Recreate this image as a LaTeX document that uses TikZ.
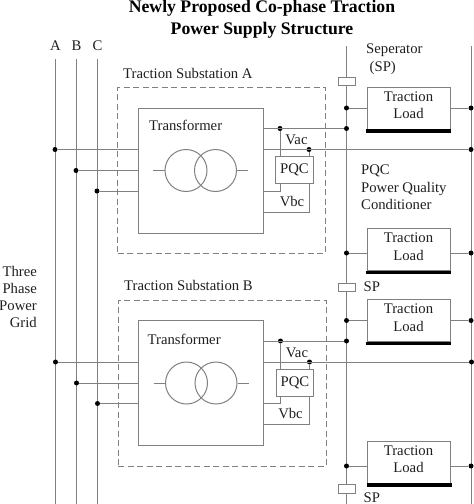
\documentclass[tikz,border=0pt]{standalone}
\usepackage{fontspec}
\setmainfont{Liberation Serif}
\usetikzlibrary{calc}
\definecolor{wirecol}{gray}{0.5}
\definecolor{txtcol}{gray}{0.12}
\tikzset{
  wire/.style={draw=wirecol,line width=1pt},
  jdot/.style={circle,fill=black,inner sep=0pt,minimum size=5pt},
  txt/.style={font=\fontsize{14.7}{17.3}\selectfont,text=txtcol,inner sep=0pt},
  box/.style={wire,rectangle,inner sep=0pt},
  loadbox/.style={box,minimum width=83pt,minimum height=42pt,align=center,txt,text depth=6pt},
  pqcbox/.style={box,fill=white,minimum width=37.5pt,minimum height=27pt,txt},
  spbox/.style={box,fill=white,minimum width=17pt,minimum height=8.5pt},
  xfbox/.style={box,minimum width=125pt,minimum height=125pt},
  subbox/.style={draw=wirecol,line width=.9pt,dash pattern=on 6pt off 3.5pt,rectangle,inner sep=0pt,minimum width=208pt,minimum height=166pt},
  coil/.style={wire,circle,inner sep=0pt,minimum size=42pt},
  loadbar/.style={line width=3.6pt,draw=black},
}
\begin{document}
\begin{tikzpicture}[x=1pt,y=-1pt]
\useasboundingbox (0,0) rectangle (474,504);
\node[font=\fontsize{17.7}{21.5}\selectfont\bfseries,align=center,inner sep=0pt] (title) at (262,19.5) {Newly Proposed Co-phase Traction\\Power Supply Structure};
% grid phases
\node[txt] (lblA) at (55.5,45.5) {A}; \node[txt] (lblB) at (76.5,45.5) {B}; \node[txt] (lblC) at (97.5,45.5) {C};
\coordinate (topA) at (55,59); \coordinate (topB) at (76,59); \coordinate (topC) at (97,59);
\coordinate (botA) at (55,504); \coordinate (botB) at (76,504); \coordinate (botC) at (97,504);
\draw[wire] (topA)--(botA); \draw[wire] (topB)--(botB); \draw[wire] (topC)--(botC);
\node[txt,align=right,anchor=east] (grid) at (37,297) {Three\\Phase\\Power\\Grid};
% feeder lines
\coordinate (topL) at (346.5,46); \coordinate (botL) at (346.5,504);
\coordinate (topR) at (471,46); \coordinate (botR) at (471,504);
\draw[wire] (topL)--(botL); \draw[wire] (topR)--(botR);
% substation A
\begin{scope}[shift={(0,0)},name prefix=a-]
\node[txt,anchor=west] (name) at (123,73) {Traction Substation A};
\node[subbox] (sub) at (221.5,170) {};
\node[xfbox] (xf) at (200.5,170.5) {};
\node[txt,anchor=west] (xfname) at (149,125) {Transformer};
\node[coil] (c1) at (186,170.5) {}; \node[coil] (c2) at (215.5,170.5) {};
\coordinate (s1) at (153,170.5); \coordinate (s2) at (248,170.5);
\draw[wire] (s1)--(c1); \draw[wire] (c2)--(s2);
\node[jdot] (da) at (55,149.5) {}; \node[jdot] (db) at (76,170.5) {}; \node[jdot] (dc) at (97,191) {};
\draw[wire] (da)--(da-|xf.west); \draw[wire] (db)--(db-|xf.west); \draw[wire] (dc)--(dc-|xf.west);
\node[pqcbox] (pqc) at (294.5,169.5) {PQC};
\node[jdot] (dv) at (280,128.5) {}; \node[jdot] (dl) at (346.5,128.5) {};
\node[jdot] (dw) at (309,149.5) {}; \node[jdot] (dr) at (471,149.5) {};
\draw[wire] (dl-|xf.east)--(dl); \draw[wire] (dr-|xf.east)--(dr);
\draw[wire] (dv)--(dv|-pqc.north); \draw[wire] (dw)--(dw|-pqc.north);
\coordinate (v1) at (280,191); \coordinate (v2) at (309,212);
\draw[wire] (v1|-pqc.south)--(v1)--(v1-|xf.east); \draw[wire] (v2|-pqc.south)--(v2)--(v2-|xf.east);
\node[txt] (vac) at (296.5,140) {Vac}; \node[txt] (vbc) at (292,202) {Vbc};
\end{scope}
% substation B
\begin{scope}[shift={(0.5,212.5)},name prefix=b-]
\node[txt,anchor=west] (name) at (123.5,73) {Traction Substation B};
\node[subbox] (sub) at (221.5,170.5) {};
\node[xfbox] (xf) at (200.5,170.5) {};
\node[txt,anchor=west] (xfname) at (147,126.5) {Transformer};
\node[coil] (c1) at (186,170.5) {}; \node[coil] (c2) at (215.5,170.5) {};
\coordinate (s1) at (153,170.5); \coordinate (s2) at (248,170.5);
\draw[wire] (s1)--(c1); \draw[wire] (c2)--(s2);
\node[jdot] (da) at (55,149.5) {}; \node[jdot] (db) at (76,170.5) {}; \node[jdot] (dc) at (97,191) {};
\draw[wire] (da)--(da-|xf.west); \draw[wire] (db)--(db-|xf.west); \draw[wire] (dc)--(dc-|xf.west);
\node[pqcbox] (pqc) at (294.5,170) {PQC};
\node[jdot] (dv) at (280,128.5) {}; \node[jdot] (dl) at (346,128.5) {};
\node[jdot] (dw) at (309,149.5) {}; \node[jdot] (dr) at (471,149.5) {};
\draw[wire] (dl-|xf.east)--(dl); \draw[wire] (dr-|xf.east)--(dr);
\draw[wire] (dv)--(dv|-pqc.north); \draw[wire] (dw)--(dw|-pqc.north);
\coordinate (v1) at (280,191); \coordinate (v2) at (309,212);
\draw[wire] (v1|-pqc.south)--(v1)--(v1-|xf.east); \draw[wire] (v2|-pqc.south)--(v2)--(v2-|xf.east);
\node[txt] (vac) at (296.5,140) {Vac}; \node[txt] (vbc) at (290,201) {Vbc};
\end{scope}
% traction loads
\node[loadbox] (load1) at (408.5,108) {Traction\\Load};
\node[loadbox] (load2) at (408.5,249.5) {Traction\\Load};
\node[loadbox] (load3) at (408.5,320.5) {Traction\\Load};
\node[loadbox] (load4) at (408.5,462) {Traction\\Load};
\draw[loadbar] (load1.south west)+(-1,1.6)--($(load1.south east)+(0,1.6)$);
\draw[loadbar] (load2.south west)+(-1,1.6)--($(load2.south east)+(0,1.6)$);
\draw[loadbar] (load3.south west)+(-1,1.6)--($(load3.south east)+(0,1.6)$);
\draw[loadbar] (load4.south west)+(0,1.6)--($(load4.south east)+(1,1.6)$);
\node[jdot] (l1) at (346.5,108) {}; \node[jdot] (r1) at (471,108) {};
\node[jdot] (l2) at (346.5,253) {}; \node[jdot] (r2) at (471,253) {};
\node[jdot] (l3) at (346.5,320.5) {}; \node[jdot] (r3) at (471,320.5) {};
\node[jdot] (l4) at (346.5,466) {}; \node[jdot] (r4) at (471,466) {};
\draw[wire] (l1)--(load1.west|-l1); \draw[wire] (load1.east|-r1)--(r1);
\draw[wire] (l2)--(load2.west|-l2); \draw[wire] (load2.east|-r2)--(r2);
\draw[wire] (l3)--(load3.west|-l3); \draw[wire] (load3.east|-r3)--(r3);
\draw[wire] (l4)--(load4.west|-l4); \draw[wire] (load4.east|-r4)--(r4);
% separators
\node[spbox] (sp1) at (346.5,81.5) {}; \node[spbox] (sp2) at (346.5,287.5) {}; \node[spbox] (sp3) at (346.5,489) {};
\node[txt,anchor=west] (sep) at (366,50.5) {Seperator}; \node[txt,anchor=west] (sepb) at (369.5,68) {(SP)};
\node[txt,anchor=west] (splbl2) at (363.5,287) {SP}; \node[txt,anchor=west] (splbl3) at (363.5,497.5) {SP};
\node[txt,anchor=west,align=left,font=\fontsize{14.7}{17.6}\selectfont] (pqcnote) at (361,187.5) {PQC\\Power Quality\\Conditioner};
\end{tikzpicture}
\end{document}
